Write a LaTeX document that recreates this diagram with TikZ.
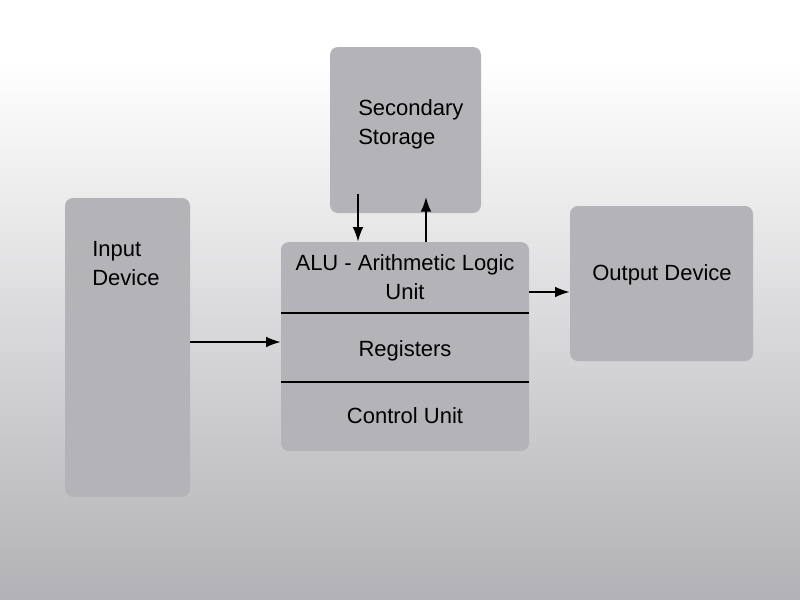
\documentclass[tikz,border=0pt]{standalone}
\usepackage{fontspec}
\setmainfont{Liberation Sans}
\usetikzlibrary{arrows.meta,calc}
\definecolor{boxgray}{RGB}{180,180,184}
\definecolor{bggray}{RGB}{178,178,182}
\begin{document}
\begin{tikzpicture}[x=0.75pt,y=-0.75pt,
  box/.style={fill=boxgray, rounded corners=6pt, draw=none, inner sep=0pt, rectangle},
  lbl/.style={font=\fontsize{16.5}{21.75}\selectfont, inner sep=0pt, text=black},
  arr/.style={line width=1.25pt, -{Latex[length=11pt,width=8pt]}},
  sepline/.style={line width=1.25pt}]
\fill[white] (0,0) rectangle (800,60);
\shade[top color=white, bottom color=bggray] (0,60) rectangle (800,600);
\useasboundingbox (0,0) rectangle (800,600);
% boxes
\node[box, minimum width=93.75pt, minimum height=224.25pt] (inp) at (127.5,347.5) {};
\node[box, minimum width=113.25pt, minimum height=124.5pt] (sec) at (405.5,130) {};
\node[box, minimum width=186pt, minimum height=156.75pt] (alu) at (405,346.5) {};
\node[box, minimum width=137.25pt, minimum height=116.25pt] (out) at (661.5,283.5) {};
% texts
\node[lbl, anchor=west, align=left] (inpt) at (92,264) {Input\\Device};
\node[lbl, anchor=west, align=left] (sect) at (358,124) {Secondary\\Storage};
\node[lbl, align=center] (alut) at (405,277) {ALU - Arithmetic Logic\\Unit};
\node[lbl] (regt) at (405,350.5) {Registers};
\node[lbl] (ctlt) at (405,415.5) {Control Unit};
\node[lbl] (outt) at (662,274.5) {Output Device};
% separators
\draw[sepline] (alu.west |- 0,313) -- (alu.east |- 0,313);
\draw[sepline] (alu.west |- 0,382) -- (alu.east |- 0,382);
% arrows
\draw[arr] (inp.east |- 0,342) -- (alu.west |- 0,342);
\coordinate (s1) at (358,194);
\coordinate (s2) at (426,197);
\draw[arr] (s1) -- (s1 |- alu.north);
\draw[arr] (s2 |- alu.north) -- (s2);
\draw[arr] (alu.east |- 0,292) -- (out.west |- 0,292);
\end{tikzpicture}
\end{document}
